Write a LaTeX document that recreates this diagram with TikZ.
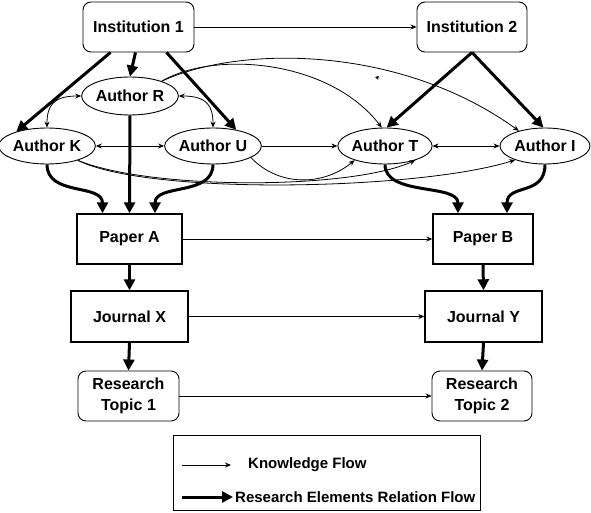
\documentclass[tikz,border=0pt]{standalone}
\usepackage{fontspec}
\setmainfont{Liberation Sans}
\usetikzlibrary{shapes.geometric,arrows.meta}
\begin{document}
\begin{tikzpicture}[x=1pt,y=-1pt,
  every node/.style={font=\bfseries\fontsize{16}{21}\selectfont},
  ell/.style={draw,ellipse,line width=0.9pt,inner sep=0pt,minimum width=90pt,minimum height=36pt},
  rbox/.style={draw,rounded corners=8pt,line width=0.9pt,align=center},
  sbox/.style={draw,line width=1.4pt,align=center},
  thin/.style={line width=0.8pt,-{Stealth[length=6pt,width=5pt]}},
  thinboth/.style={line width=0.8pt,{Stealth[length=6pt,width=5pt]}-{Stealth[length=6pt,width=5pt]}},
  thick/.style={line width=3pt,-{Triangle[length=11pt,width=11pt]}},
]
\useasboundingbox (0,0) rectangle (591,513);
\fill[white] (0,0) rectangle (591,513);
% nodes
\node[rbox,minimum width=111pt,minimum height=50pt] (i1) at (138.5,27) {Institution 1};
\node[rbox,minimum width=110pt,minimum height=50pt] (i2) at (472,27) {Institution 2};
\node[ell,minimum height=38pt] (r) at (130,96) {Author R};
\node[ell] (k) at (47,146) {Author K};
\node[ell] (u) at (213,146) {Author U};
\node[ell] (t) at (385,146) {Author T};
\node[ell] (ai) at (545,146) {Author I};
\node[sbox,minimum width=105pt,minimum height=50pt] (pa) at (129.5,239) {Paper A};
\node[sbox,minimum width=100pt,minimum height=50pt] (pb) at (483,239) {Paper B};
\node[sbox,minimum width=117pt,minimum height=51pt] (jx) at (129.5,316.5) {Journal X};
\node[sbox,minimum width=117pt,minimum height=51pt] (jy) at (483.5,316.5) {Journal Y};
\node[rbox,minimum width=101pt,minimum height=50pt,inner sep=1pt] (t1) at (128.5,396) {Research\\Topic 1};
\node[rbox,minimum width=100pt,minimum height=50pt,inner sep=1pt] (t2) at (482,396) {Research\\Topic 2};
% knowledge flows
\draw[thin] (i1.east) -- (i2.west);
\draw[thin] (pa.east) -- (pb.west);
\draw[thin] (jx.east) -- (jy.west);
\draw[thin] (t1.east) -- (t2.west);
\draw[thinboth] (r.west) .. controls +(-28,0) and +(0,-22) .. (k.north);
\draw[thinboth] (r.east) .. controls +(28,0) and +(0,-22) .. (u.north);
\draw[thinboth] (k.east) -- (u.west);
\draw[thin] (u.east) -- (t.west);
\draw[thinboth] (t.east) -- (ai.west);
\draw[thin] (u.-17) .. controls (280,188) and (325,185) .. (t.-155);
\draw[thin] (k.-25) .. controls (150,190) and (350,190) .. (t.-25);
\draw[thin] (k.-25) .. controls (150,196) and (420,190) .. (ai.-155);
\draw[thin] (r.25) .. controls (215,50) and (330,60) .. (t.100);
\draw[thin] (r.25) .. controls (240,45) and (400,45) .. (ai.150);
\coordinate (s1) at (379,78);
\coordinate (s2) at (375,77);
\draw[line width=0.6pt,-{Stealth[length=4pt,width=4pt]}] (s1) -- (s2);
% research element relation flows
\draw[thick] ([xshift=-28pt]i1.south) -- (k.155);
\draw[thick] ([xshift=-3pt]i1.south) -- (r.north);
\draw[thick] ([xshift=28pt]i1.south) -- (u.35);
\draw[thick] (i2.south) -- (t.85);
\draw[thick] (i2.south) -- (ai.95);
\draw[thick] (r.south) -- (pa.north);
\draw[thick] (k.south) .. controls +(0,32) and +(0,-30) .. ([xshift=-27pt]pa.north);
\draw[thick] (u.south) .. controls +(0,32) and +(0,-30) .. ([xshift=25.5pt]pa.north);
\draw[thick] (t.south) .. controls +(0,32) and +(0,-30) .. ([xshift=-25pt]pb.north);
\draw[thick] (ai.south) .. controls +(0,32) and +(0,-30) .. ([xshift=24pt]pb.north);
\draw[thick] (pa.south) -- (jx.north);
\draw[thick] (pb.south) -- (jy.north);
\draw[thick] (jx.south) -- (t1.north);
\draw[thick] (jy.south) -- (t2.north);
% legend
\node[draw,line width=0.9pt,minimum width=307pt,minimum height=75pt,inner sep=0pt] (leg) at (326.5,472.5) {};
\coordinate (l1a) at (182,465);
\coordinate (l1b) at (231,465);
\coordinate (l2a) at (182,497);
\coordinate (l2b) at (233,497);
\draw[thin] (l1a) -- (l1b);
\draw[thick] (l2a) -- (l2b);
\node[anchor=west,inner sep=0pt,font=\bfseries\fontsize{15}{18}\selectfont] (lt1) at (248,465) {Knowledge Flow};
\node[anchor=west,inner sep=0pt,font=\bfseries\fontsize{15}{18}\selectfont] (lt2) at (235,497) {Research Elements Relation Flow};
\end{tikzpicture}
\end{document}
